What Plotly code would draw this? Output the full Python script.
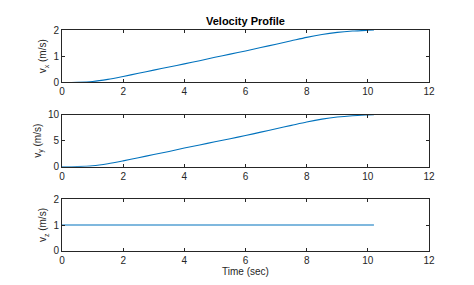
import plotly.graph_objects as go

t = [0, 0.5, 1, 1.5, 2, 2.5, 3, 3.5, 4, 4.5, 5, 5.5, 6, 6.5, 7, 7.5, 8, 8.5, 9, 9.5, 10, 10.2]
vx = [0, 0.01, 0.04, 0.12, 0.23, 0.35, 0.47, 0.59, 0.71, 0.83, 0.96, 1.08, 1.20, 1.33, 1.46, 1.59, 1.72, 1.83, 1.91, 1.96, 1.99, 2.0]
vy = [0, 0.05, 0.2, 0.6, 1.15, 1.75, 2.35, 2.95, 3.6, 4.2, 4.8, 5.4, 6.0, 6.65, 7.3, 7.95, 8.6, 9.15, 9.55, 9.8, 9.95, 10.0]
vz = [1.0] * len(t)

x_ticks = [0, 2, 4, 6, 8, 10, 12]
y_ticks = [[0, 1, 2], [0, 5, 10], [0, 1, 2]]
y_ranges = [[0, 2], [0, 10], [0, 2]]
y_labels = ["v<sub>x</sub> (m/s)", "v<sub>y</sub> (m/s)", "v<sub>z</sub> (m/s)"]
series = [vx, vy, vz]
title = "Velocity Profile"
x_title = "Time (sec)"

line_color = "#0072BD"
ax_color = "#262626"
font = dict(family="Liberation Sans, Arial, sans-serif", size=10, color=ax_color)

domains = [[0.7625, 1.0], [0.3808, 0.6169], [0.0, 0.2348]]

fig = go.Figure()
for i, v in enumerate(series):
    n = "" if i == 0 else str(i + 1)
    fig.add_trace(go.Scatter(x=t, y=v, mode="lines",
                             line=dict(color=line_color, width=1.1, shape="spline", smoothing=0.8),
                             xaxis="x" + n, yaxis="y" + n, showlegend=False, hoverinfo="skip"))
    common = dict(showline=True, linecolor=ax_color, linewidth=1, mirror="ticks",
                  ticks="inside", ticklen=3, tickcolor=ax_color, tickwidth=1,
                  showgrid=False, zeroline=False, tickfont=font)
    xa = dict(common, range=[0, 12], tickvals=x_ticks, anchor="y" + n, domain=[0, 1])
    if i == 2:
        xa["title"] = dict(text=x_title, font=font, standoff=0)
    fig.layout["xaxis" + n] = xa
    fig.layout["yaxis" + n] = dict(common, range=y_ranges[i], tickvals=y_ticks[i], anchor="x" + n,
                                   domain=domains[i],
                                   title=dict(text=y_labels[i], font=font, standoff=4))

fig.add_annotation(text="<b>" + title + "</b>", x=0.5, y=1.0, xref="paper", yref="paper",
                   xanchor="center", yanchor="bottom", yshift=1, showarrow=False,
                   font=dict(family="Liberation Sans, Arial, sans-serif", size=11, color="#000000"))

fig.update_layout(width=474, height=285, margin=dict(l=62, r=45, t=29.5, b=32.3),
                  paper_bgcolor="white", plot_bgcolor="white")

fig.write_html("out.html")
